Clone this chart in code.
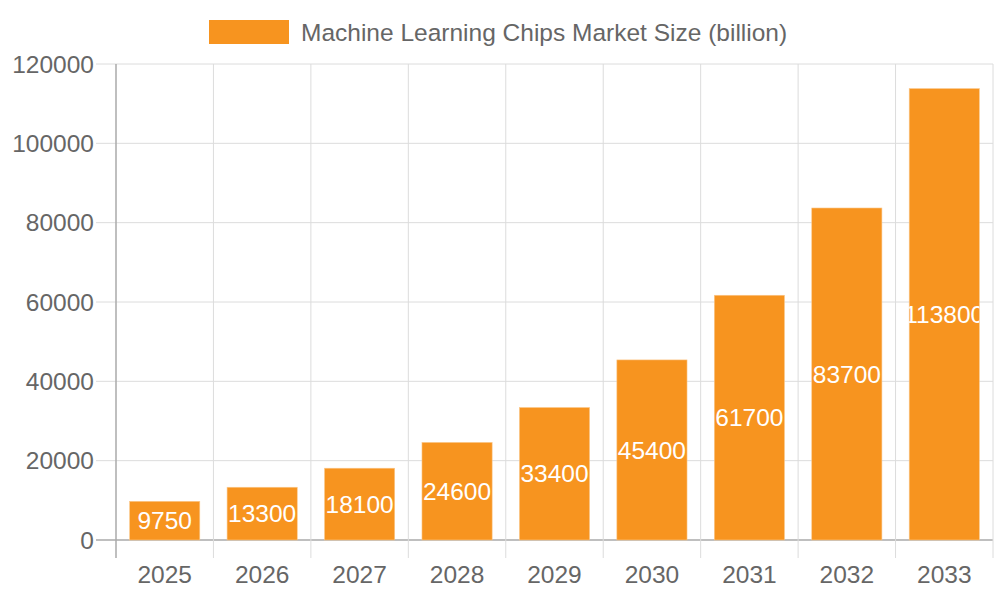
<!DOCTYPE html>
<html>
<head>
<meta charset="utf-8">
<script src="https://cdn.jsdelivr.net/npm/d3@7"></script>
<style>
  body { margin: 0; background: #fff; }
  svg text { font-family: "Liberation Sans", Arial, sans-serif; }
</style>
</head>
<body>
<script>
// chart data
const years = ["2025", "2026", "2027", "2028", "2029", "2030", "2031", "2032", "2033"];
const marketSize = [9750, 13300, 18100, 24600, 33400, 45400, 61700, 83700, 113800];
const yTicks = [0, 20000, 40000, 60000, 80000, 100000, 120000];
const seriesName = "Machine Learning Chips Market Size (billion)";

const width = 1000;
const height = 600;
const margin = { top: 64, right: 7, bottom: 60, left: 116 };
const barColor = "#f7941f";
const fontSize = "24.5px";

const svg = d3
  .select("body")
  .append("svg")
  .attr("width", width)
  .attr("height", height);

const x = d3
  .scaleBand()
  .domain(years)
  .range([margin.left, width - margin.right])
  .paddingInner(0)
  .paddingOuter(0);

const y = d3
  .scaleLinear()
  .domain([0, 120000])
  .range([height - margin.bottom, margin.top]);

// grid lines - horizontal
svg
  .append("g")
  .selectAll("line")
  .data(yTicks)
  .join("line")
  .attr("x1", margin.left - 20)
  .attr("x2", width - margin.right)
  .attr("y1", (d) => y(d))
  .attr("y2", (d) => y(d))
  .attr("stroke", (d) => (d === 0 ? "#aaa" : "#dcdcdc"))
  .attr("stroke-width", (d) => (d === 0 ? 1.5 : 1));

// grid lines - vertical at category edges
const edges = years.map((d) => x(d)).concat([x(years[years.length - 1]) + x.bandwidth()]);
svg
  .append("g")
  .selectAll("line")
  .data(edges)
  .join("line")
  .attr("x1", (d) => d)
  .attr("x2", (d) => d)
  .attr("y1", margin.top)
  .attr("y2", height - margin.bottom + 18)
  .attr("stroke", (d, i) => (i === 0 ? "#aaa" : "#dcdcdc"))
  .attr("stroke-width", (d, i) => (i === 0 ? 1.5 : 1));

// y labels
svg
  .append("g")
  .selectAll("text")
  .data(yTicks)
  .join("text")
  .attr("x", margin.left - 22)
  .attr("y", (d) => y(d))
  .attr("dy", "0.35em")
  .attr("text-anchor", "end")
  .attr("fill", "#666")
  .attr("font-size", fontSize)
  .text((d) => d);

// x labels
svg
  .append("g")
  .selectAll("text")
  .data(years)
  .join("text")
  .attr("x", (d) => x(d) + x.bandwidth() / 2)
  .attr("y", height - margin.bottom + 34)
  .attr("dy", "0.35em")
  .attr("text-anchor", "middle")
  .attr("fill", "#666")
  .attr("font-size", fontSize)
  .text((d) => d);

const barW = x.bandwidth() * 0.72;
const bars = years.map((d, i) => ({
  year: d,
  value: marketSize[i],
  x: x(d) + (x.bandwidth() - barW) / 2,
  y: y(marketSize[i]),
  h: y(0) - y(marketSize[i]),
}));

// clip paths so value labels stay inside bars
const defs = svg.append("defs");
defs
  .selectAll("clipPath")
  .data(bars)
  .join("clipPath")
  .attr("id", (d, i) => "clip" + i)
  .append("rect")
  .attr("x", (d) => d.x)
  .attr("y", (d) => d.y)
  .attr("width", barW)
  .attr("height", (d) => d.h);

svg
  .append("g")
  .selectAll("rect")
  .data(bars)
  .join("rect")
  .attr("x", (d) => d.x)
  .attr("y", (d) => d.y)
  .attr("width", barW)
  .attr("height", (d) => d.h)
  .attr("fill", barColor)
  .attr("stroke", "#fbc88c")
  .attr("stroke-width", 0.6);

svg
  .append("g")
  .selectAll("text")
  .data(bars)
  .join("text")
  .attr("clip-path", (d, i) => "url(#clip" + i + ")")
  .attr("x", (d) => d.x + barW / 2)
  .attr("y", (d) => d.y + d.h / 2)
  .attr("dy", "0.35em")
  .attr("text-anchor", "middle")
  .attr("fill", "#fff")
  .attr("font-size", fontSize)
  .text((d) => d.value);

// legend
const legend = svg.append("g");
legend
  .append("rect")
  .attr("x", 209)
  .attr("y", 20)
  .attr("width", 80)
  .attr("height", 24)
  .attr("fill", barColor);
legend
  .append("text")
  .attr("x", 301)
  .attr("y", 32)
  .attr("dy", "0.35em")
  .attr("fill", "#666")
  .attr("font-size", fontSize)
  .text(seriesName);
</script>
</body>
</html>
